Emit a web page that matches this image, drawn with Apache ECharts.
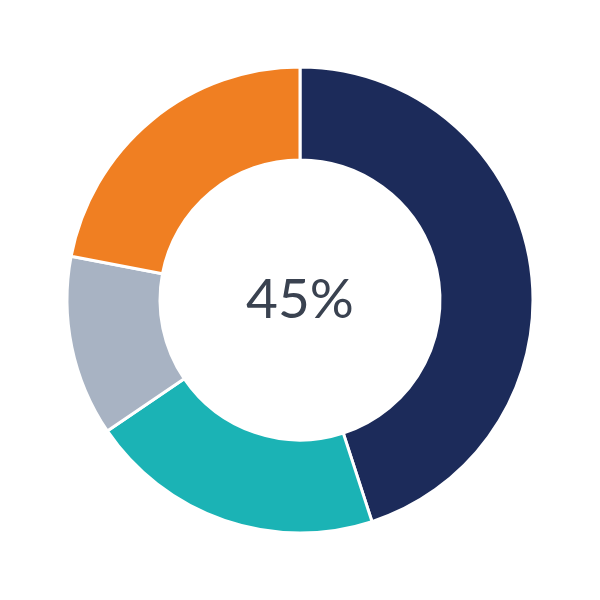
<!DOCTYPE html>
<html>
<head>
<meta charset="utf-8">
<script src="https://cdn.jsdelivr.net/npm/echarts@6/dist/echarts.min.js"></script>
<style>
    html, body {margin: 0; padding: 0; background: #fff;}
    #chart {width: 600px; height: 600px;}
</style>
</head>
<body>
<div id="chart"></div>
<script>
    // slices, clockwise from the top
    const names = ['A', 'B', 'C', 'D'];
    const values = [45, 20.5, 12.5, 22];
    const colors = ['#1c2b5a', '#1bb3b5', '#a8b3c3', '#f07f22'];
    const centerLabel = '45%';

    const chart = echarts.init(document.getElementById('chart'));
    const option = {
        animation: false,
        title: {
            text: centerLabel,
            left: 'center',
            top: 'middle',
            textStyle: {
                fontFamily: 'Lato',
                fontSize: 55,
                fontWeight: 'normal',
                color: '#3a4250',
            },
        },
        series: [
            {
                type: 'pie',
                center: ['50%', '50%'],
                radius: [140, 233],
                startAngle: 90,
                clockwise: true,
                label: {show: false},
                labelLine: {show: false},
                itemStyle: {
                    borderColor: '#fff',
                    borderWidth: 3,
                },
                data: names.map((n, i) => ({
                    name: n,
                    value: values[i],
                    itemStyle: {color: colors[i]},
                })),
            },
        ]
    };
    chart.setOption(option);
</script>
</body>
</html>
